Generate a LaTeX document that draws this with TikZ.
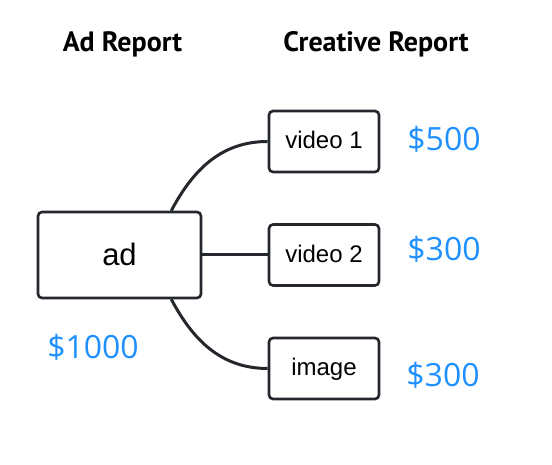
\documentclass[tikz,border=0pt]{standalone}
\usepackage{fontspec}
\setmainfont{Liberation Sans}
\newfontfamily\headfont{PT Sans}
\newfontfamily\numfont{Open Sans}
\definecolor{linegray}{HTML}{24282C}
\definecolor{costblue}{HTML}{1E90FF}
\tikzset{
  box/.style={draw=linegray,line width=2.6pt,rounded corners=4pt,align=center,
    text height=17pt,text depth=2pt,font=\fontsize{24}{24}\selectfont},
  link/.style={draw=linegray,line width=3pt},
  cost/.style={anchor=base,text=costblue,font=\numfont\fontsize{32}{32}\selectfont},
  head/.style={anchor=base,font=\headfont\bfseries\fontsize{28}{28}\selectfont}
}
\begin{document}
\begin{tikzpicture}[x=1pt,y=1pt]
\useasboundingbox(0,0)rectangle(552,465);
% report titles
\node[head](adhead)at(122.5,413){Ad Report};
\node[head](crhead)at(376,413){Creative Report};
% boxes
\node[box,minimum width=163pt,minimum height=86pt,text height=23pt,text depth=1pt,
  font=\fontsize{31}{31}\selectfont](ad)at(119.5,210){ad};
\node[box,minimum width=110pt,minimum height=61pt](v1)at(324,323.5){video 1};
\node[box,minimum width=110pt,minimum height=61pt](v2)at(324,210){video 2};
\node[box,minimum width=110pt,minimum height=61pt](img)at(324,96.5){image};
% links
\draw[link]([xshift=-31pt]ad.north east)to[out=62,in=180](v1.west);
\draw[link](ad.east)--(v2.west);
\draw[link]([xshift=-31pt]ad.south east)to[out=-62,in=180](img.west);
% spend
\node[cost](c1)at(444,314){\$500};
\node[cost](c2)at(444,204){\$300};
\node[cost](c3)at(443,78){\$300};
\node[cost](c0)at(93,106){\$1000};
\end{tikzpicture}
\end{document}
